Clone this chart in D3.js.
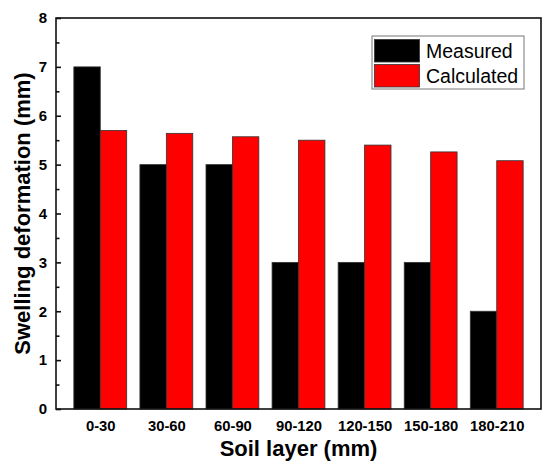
<!DOCTYPE html>
<html>
<head>
<meta charset="utf-8">
<script src="https://cdn.jsdelivr.net/npm/d3@7"></script>
<style>
  body { margin: 0; background: #ffffff; }
  svg { display: block; }
  text { font-family: "Liberation Sans", Arial, sans-serif; }
</style>
</head>
<body>
<svg id="chart" width="550" height="465"></svg>
<script>
const categories = ["0-30", "30-60", "60-90", "90-120", "120-150", "150-180", "180-210"];
const measured = [7, 5, 5, 3, 3, 3, 2];
const calculated = [5.70, 5.64, 5.57, 5.50, 5.40, 5.26, 5.08];
const seriesNames = ["Measured", "Calculated"];
const seriesColors = ["#000000", "#ff0000"];
const yTicks = [0, 1, 2, 3, 4, 5, 6, 7, 8];
const yMinorTicks = [0.5, 1.5, 2.5, 3.5, 4.5, 5.5, 6.5, 7.5];

(function () {
const svg = d3.select("#chart");
const mLeft = 56, mRight = 541, mTop = 18, mBottom = 409;

const x = d3.scaleLinear().domain([0.33, categories.length + 0.67]).range([mLeft, mRight]);
const y = d3.scaleLinear().domain([0, 8]).range([mBottom, mTop]);
const step = x(2) - x(1);
const barW = step * 0.4;

const series = [measured, calculated];

// bars
series.forEach((vals, si) => {
  svg.append("g").selectAll("rect")
    .data(vals)
    .join("rect")
    .attr("x", (d, i) => x(i + 1) + (si === 0 ? -barW : 0))
    .attr("y", d => y(d))
    .attr("width", barW)
    .attr("height", d => y(0) - y(d))
    .attr("fill", seriesColors[si])
    .attr("stroke", "#333")
    .attr("stroke-width", 0.8);
});

// frame
svg.append("rect")
  .attr("x", mLeft).attr("y", mTop)
  .attr("width", mRight - mLeft).attr("height", mBottom - mTop)
  .attr("fill", "none").attr("stroke", "#111").attr("stroke-width", 1.6);

// y axis
const yAxis = svg.append("g").attr("transform", `translate(${mLeft},0)`)
  .call(d3.axisLeft(y).tickValues(yTicks).tickSizeInner(-5).tickSizeOuter(0).tickPadding(9).tickFormat(d3.format("d")));
yAxis.select(".domain").remove();
yAxis.selectAll("line").attr("stroke", "#111").attr("stroke-width", 1.6);
yAxis.selectAll("text").attr("font-size", "15px").attr("font-weight", "bold").attr("fill", "#000");

const yMinor = svg.append("g").attr("transform", `translate(${mLeft},0)`)
  .call(d3.axisLeft(y).tickValues(yMinorTicks).tickSizeInner(-3.5).tickSizeOuter(0).tickFormat(""));
yMinor.select(".domain").remove();
yMinor.selectAll("line").attr("stroke", "#111").attr("stroke-width", 1.6);

// x axis labels
const xAxis = svg.append("g").attr("transform", `translate(0,${mBottom})`)
  .call(d3.axisBottom(x).tickValues(d3.range(1, categories.length + 1)).tickSize(0).tickPadding(11.5).tickFormat(d => categories[d - 1]));
xAxis.select(".domain").remove();
xAxis.selectAll("text").attr("font-size", "14.8px").attr("font-weight", "bold").attr("fill", "#000");

// axis titles
svg.append("text")
  .attr("x", (mLeft + mRight) / 2).attr("y", 456)
  .attr("text-anchor", "middle")
  .attr("font-size", "22px").attr("font-weight", "bold")
  .text("Soil layer (mm)");

svg.append("text")
  .attr("transform", `translate(29.5,${(mTop + mBottom) / 2}) rotate(-90)`)
  .attr("text-anchor", "middle")
  .attr("font-size", "22px").attr("font-weight", "bold")
  .text("Swelling deformation (mm)");

// legend
const lg = svg.append("g");
lg.append("rect")
  .attr("x", 372).attr("y", 36).attr("width", 152).attr("height", 53)
  .attr("fill", "#fff").attr("stroke", "#777").attr("stroke-width", 1);
seriesNames.forEach((name, i) => {
  lg.append("rect")
    .attr("x", 374.5).attr("y", 39.5 + i * 25).attr("width", 45).attr("height", 22.5)
    .attr("fill", seriesColors[i]).attr("stroke", "#333").attr("stroke-width", 0.8);
  lg.append("text")
    .attr("x", 426).attr("y", 58 + i * 25)
    .attr("font-size", "19.5px")
    .text(name);
});
})();
</script>
</body>
</html>
